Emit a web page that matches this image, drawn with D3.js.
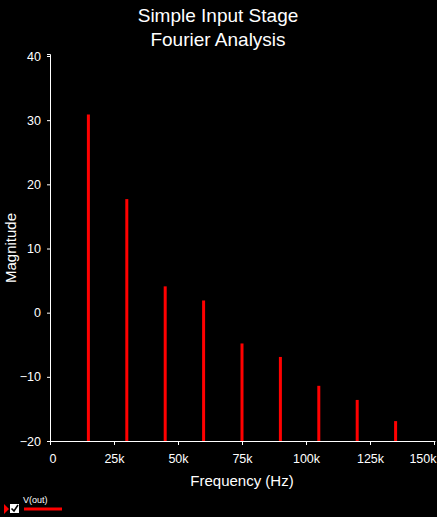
<!DOCTYPE html>
<html><head><meta charset="utf-8">
<script src="https://cdn.jsdelivr.net/npm/d3@7"></script>
<style>body{margin:0;background:#000}svg{display:block;font-family:"Liberation Sans",Arial,sans-serif}</style>
</head><body><svg id="c" width="437" height="517"></svg>
<script>
// harmonic frequencies (Hz) and magnitudes
const freqs = [15000, 30000, 45000, 60000, 75000, 90000, 105000, 120000, 135000];
const mags = [30.9, 17.7, 4.1, 1.9, -4.8, -6.9, -11.4, -13.6, -16.9];
const xTicks = [0, 25000, 50000, 75000, 100000, 125000, 150000];
const yTicks = [-20, -10, 0, 10, 20, 30, 40];

const svg = d3.select("#c");
const x = d3.scaleLinear().domain([0, 150000]).range([50, 434]);
const y = d3.scaleLinear().domain([-20, 40]).range([441, 56]);

svg.append("text").attr("x", 218).attr("y", 22).attr("text-anchor", "middle")
  .attr("fill", "#fff").attr("font-size", 19).text("Simple Input Stage");
svg.append("text").attr("x", 218).attr("y", 46).attr("text-anchor", "middle")
  .attr("fill", "#fff").attr("font-size", 19).text("Fourier Analysis");

const xa = svg.append("g").attr("transform", "translate(0,441)")
  .call(d3.axisBottom(x).tickValues(xTicks).tickSize(4).tickSizeOuter(0)
    .tickFormat(d => d === 0 ? "0" : d / 1000 + "k"));
const ya = svg.append("g").attr("transform", "translate(50,0)")
  .call(d3.axisLeft(y).tickValues(yTicks).tickSize(3).tickSizeOuter(0));
[xa, ya].forEach(a => {
  a.selectAll("path,line").attr("stroke", "#fff");
  a.selectAll("text").attr("fill", "#fff").attr("font-size", 12.5);
});
ya.select(".domain").attr("d", "M-3,54.5H0.5V441.5");
xa.select(".domain").attr("d", "M50,0.5H435.5");
xa.selectAll("text").attr("dy", "1.2em");
xa.selectAll(".tick").filter(d => d === 150000).select("text").attr("text-anchor", "end").attr("dx", 2);
xa.selectAll(".tick").filter(d => d === 0).select("text").attr("text-anchor", "start").attr("dx", -1);
ya.selectAll("text").attr("dx", -3);

svg.append("text").attr("x", 242).attr("y", 486).attr("text-anchor", "middle")
  .attr("fill", "#fff").attr("font-size", 15).text("Frequency (Hz)");
svg.append("text").attr("transform", "translate(16,248) rotate(-90)").attr("text-anchor", "middle")
  .attr("fill", "#fff").attr("font-size", 15).text("Magnitude");

svg.append("g").selectAll("line").data(freqs).join("line")
  .attr("x1", d => x(d)).attr("x2", d => x(d))
  .attr("y1", y(-20)).attr("y2", (d, i) => y(mags[i]))
  .attr("stroke", "#f00").attr("stroke-width", 3);

// legend
const lg = svg.append("g");
lg.append("path").attr("d", "M4,504L9,509L4,514Z").attr("fill", "#f00");
lg.append("rect").attr("x", 10).attr("y", 504).attr("width", 9).attr("height", 9).attr("fill", "#fff");
lg.append("path").attr("d", "M11.5,508.5L14,511L18,505").attr("stroke", "#000").attr("stroke-width", 1.6).attr("fill", "none");
lg.append("text").attr("x", 23).attr("y", 503).attr("fill", "#fff").attr("font-size", 9).text("V(out)");
lg.append("line").attr("x1", 24).attr("x2", 62).attr("y1", 509).attr("y2", 509).attr("stroke", "#f00").attr("stroke-width", 3);
</script></body></html>
